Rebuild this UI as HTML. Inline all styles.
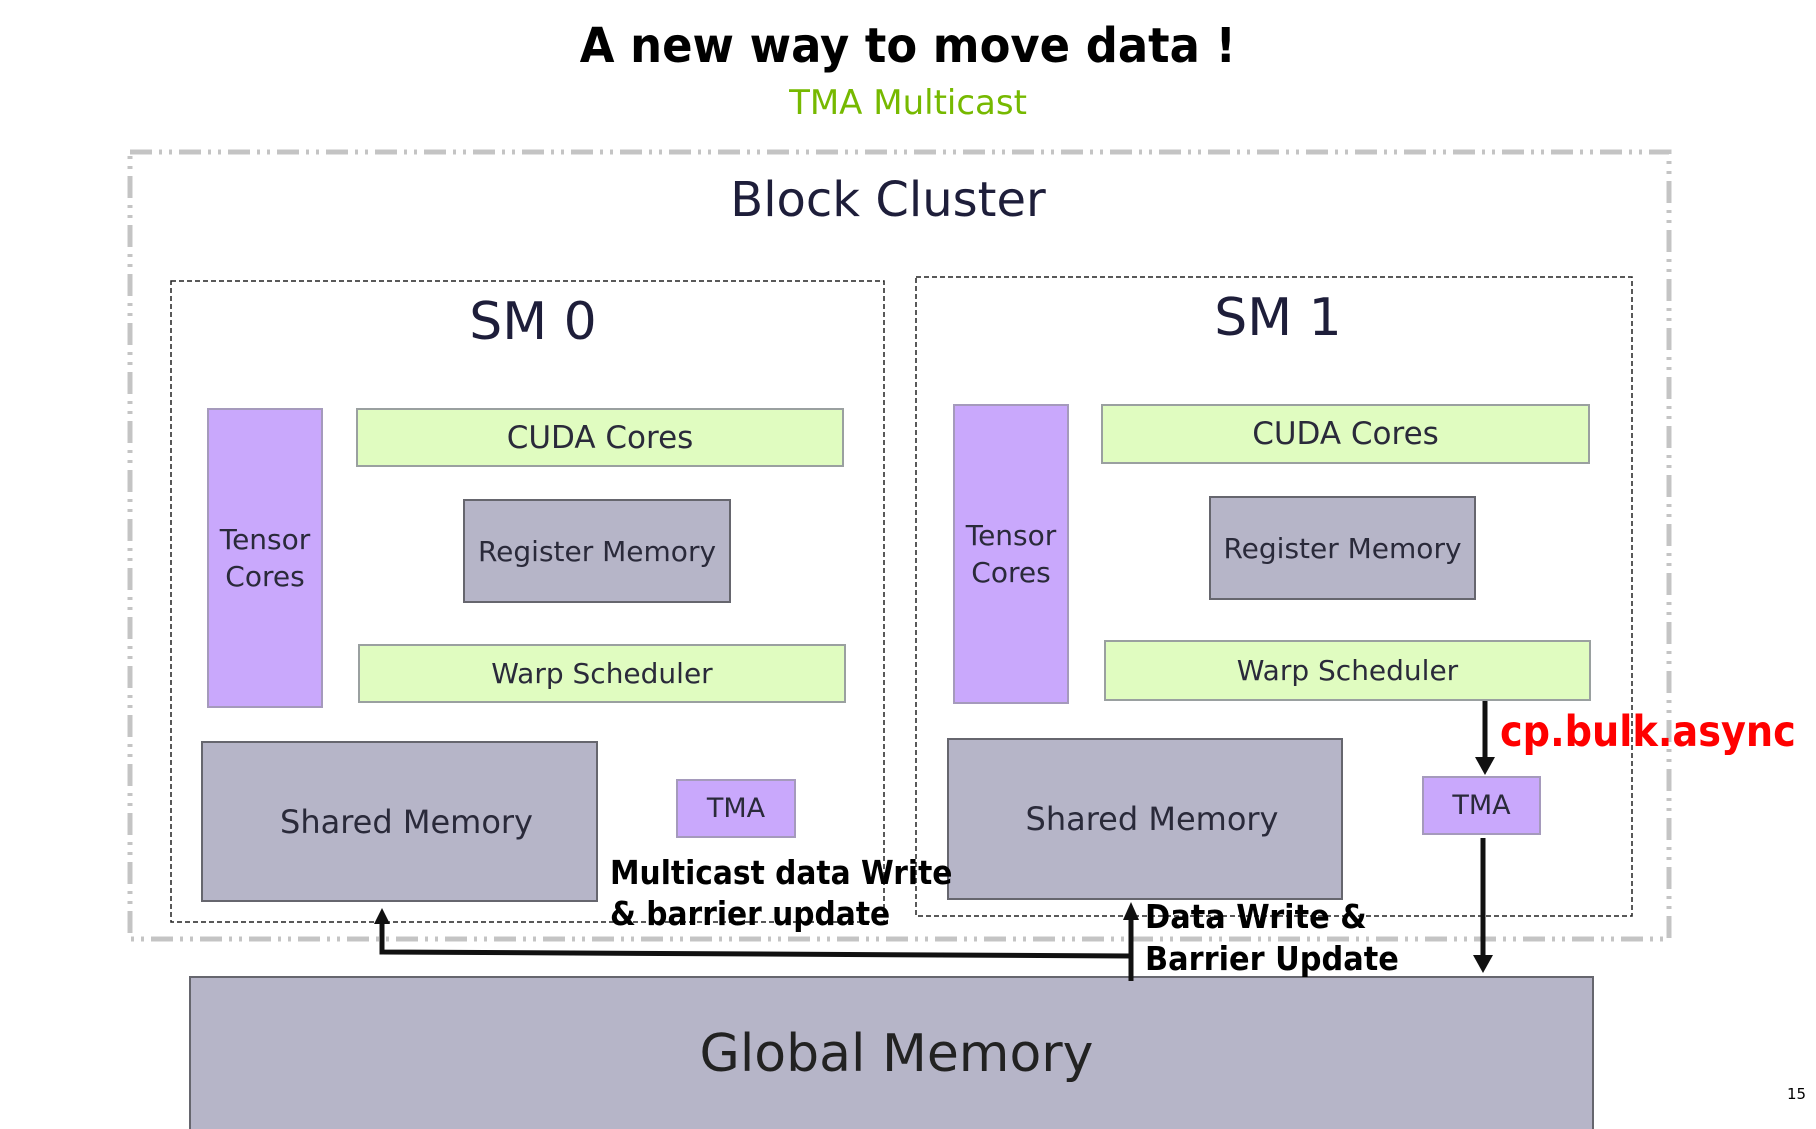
<!DOCTYPE html>
<html><head><meta charset="utf-8"><style>
html,body{margin:0;padding:0;background:#fff;}
body{width:1816px;height:1129px;position:relative;overflow:hidden;font-family:"DejaVu Sans","Liberation Sans",sans-serif;}
.b{position:absolute;box-sizing:border-box;display:flex;align-items:center;justify-content:center;text-align:center;color:#2a2a3a;}
.g{background:#e0fcc0;border:2px solid #9aa0a0;font-size:31px;}
.r{background:#b6b5c8;border:2px solid #66666e;font-size:28px;}
.p{background:#c9a8fc;border:2px solid #a59abc;font-size:27px;}
.t{position:absolute;white-space:nowrap;transform-origin:0 0;}
</style></head><body>
<div class="t" style="left:0;width:1816px;top:18px;text-align:center;font-weight:bold;font-size:48px;color:#000;"><span style="display:inline-block;transform:scaleX(0.935);">A new way to move data !</span></div>
<div class="t" style="left:0;width:1816px;top:83px;text-align:center;font-size:34px;color:#76b900;">TMA Multicast</div>

<svg width="1816" height="1129" style="position:absolute;left:0;top:0">
<rect x="130" y="152" width="1539" height="787" fill="none" stroke="#c4c4c4" stroke-width="5" stroke-dasharray="22,7,3,7,3,7"/>
<rect x="171" y="281" width="713" height="641" fill="none" stroke="#222" stroke-width="1.5" stroke-dasharray="5,3"/>
<rect x="916" y="277" width="716" height="639" fill="none" stroke="#222" stroke-width="1.5" stroke-dasharray="5,3"/>
</svg>

<div class="t" style="left:0;width:1776px;top:172px;text-align:center;font-size:48px;color:#1e1e3a;">Block Cluster</div>
<div class="t" style="left:433px;width:200px;top:292px;text-align:center;font-size:52px;color:#1e1e3a;">SM 0</div>
<div class="t" style="left:1178px;width:200px;top:288px;text-align:center;font-size:52px;color:#1e1e3a;">SM 1</div>

<div class="b p" style="left:207px;top:408px;width:116px;height:300px;font-size:28px;line-height:37px;">Tensor<br>Cores</div>
<div class="b g" style="left:356px;top:408px;width:488px;height:59px;">CUDA Cores</div>
<div class="b r" style="left:463px;top:499px;width:268px;height:104px;">Register Memory</div>
<div class="b g" style="left:358px;top:644px;width:488px;height:59px;font-size:28px;">Warp Scheduler</div>
<div class="b r" style="left:201px;top:741px;width:397px;height:161px;font-size:32px;padding-left:14px;">Shared Memory</div>
<div class="b p" style="left:676px;top:779px;width:120px;height:59px;">TMA</div>

<div class="b p" style="left:953px;top:404px;width:116px;height:300px;font-size:28px;line-height:37px;">Tensor<br>Cores</div>
<div class="b g" style="left:1101px;top:404px;width:489px;height:60px;">CUDA Cores</div>
<div class="b r" style="left:1209px;top:496px;width:267px;height:104px;">Register Memory</div>
<div class="b g" style="left:1104px;top:640px;width:487px;height:61px;font-size:28px;">Warp Scheduler</div>
<div class="b r" style="left:947px;top:738px;width:396px;height:162px;font-size:32px;padding-left:14px;">Shared Memory</div>
<div class="b p" style="left:1422px;top:776px;width:119px;height:59px;">TMA</div>

<div class="b r" style="left:189px;top:976px;width:1405px;height:153px;font-size:52px;color:#222;border-bottom:none;padding-left:10px;">Global Memory</div>

<svg width="1816" height="1129" style="position:absolute;left:0;top:0">
<g stroke="#111" stroke-width="5" fill="none">
<line x1="1485" y1="701" x2="1485" y2="760"/>
<line x1="1483" y1="838" x2="1483" y2="958"/>
<polyline points="1131,981 1131,918"/>
<polyline points="1131,956 382,952 382,922"/>
</g>
<g fill="#111">
<polygon points="1475,757 1495,757 1485,775"/>
<polygon points="1473,955 1493,955 1483,973"/>
<polygon points="1123,920 1139,920 1131,902"/>
<polygon points="374,924 390,924 382,908"/>
</g>
</svg>

<div class="t" style="left:1500px;top:707px;font-size:43px;color:#ff0000;font-weight:bold;transform:scaleX(0.89);">cp.bulk.async</div>
<div class="t" style="left:610px;top:852px;font-size:33px;font-weight:bold;color:#000;line-height:41px;transform:scaleX(0.9);">Multicast data Write<br>&amp; barrier update</div>
<div class="t" style="left:1145px;top:896px;font-size:33px;font-weight:bold;color:#000;line-height:42px;transform:scaleX(0.92);">Data Write &amp;<br>Barrier Update</div>
<div class="t" style="left:1787px;top:1085px;font-size:15px;color:#000;">15</div>
</body></html>
